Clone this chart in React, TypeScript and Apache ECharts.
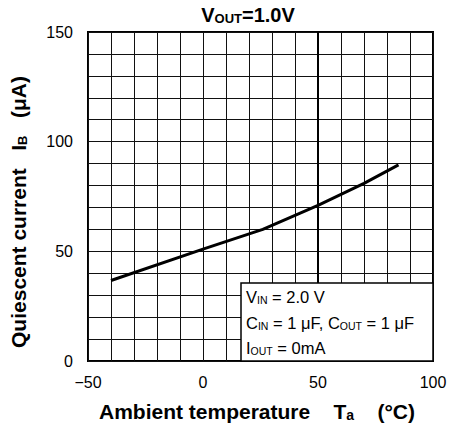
import React, { useEffect, useRef } from "react";
import * as echarts from "echarts";

// ambient temperature (°C) and quiescent current (µA)
const temps = [-40, 0, 26, 50, 70, 85];
const currents = [36.7, 51, 60, 71, 81, 89.4];

const xTicks = [-50, 0, 50, 100];
const yTicks = [0, 50, 100, 150];
const conditions = [
  "{t|V}{s|IN}{t| = 2.0 V}",
  "{t|C}{s|IN}{t| = 1 μF, C}{s|OUT}{t| = 1 μF}",
  "{t|I}{s|OUT}{t| = 0mA}",
];

const FONT = "'Liberation Sans', Arial, Helvetica, sans-serif";

export default function App() {
  const chartRef = useRef<HTMLDivElement>(null);

  useEffect(() => {
    document.body.style.margin = "0";
    if (!chartRef.current) return;
    const chart = echarts.init(chartRef.current, null, { renderer: "svg" });

    const option: echarts.EChartsOption = {
      animation: false,
      backgroundColor: "#fff",
      textStyle: { fontFamily: FONT, color: "#000" },
      grid: {
        left: 88,
        top: 32,
        right: 21,
        bottom: 67,
        show: true,
        borderColor: "#000",
        borderWidth: 2,
        backgroundColor: "transparent",
      },
      xAxis: {
        type: "value",
        min: -50,
        max: 100,
        interval: 10,
        axisLine: { show: false },
        axisTick: { show: false },
        splitLine: { show: true, lineStyle: { color: "#111", width: 1 } },
        axisLabel: {
          fontSize: 16,
          color: "#000",
          fontFamily: FONT,
          margin: 13,
          formatter: (v: number) =>
            xTicks.includes(v) ? String(v).replace("-", "\u2212") : "",
        },
      },
      yAxis: {
        type: "value",
        min: 0,
        max: 150,
        interval: 10,
        axisLine: { show: false },
        axisTick: { show: false },
        splitLine: { show: true, lineStyle: { color: "#111", width: 1 } },
        axisLabel: {
          fontSize: 16,
          color: "#000",
          fontFamily: FONT,
          margin: 15,
          formatter: (v: number) => (yTicks.includes(v) ? String(v) : ""),
        },
      },
      series: [
        {
          type: "line",
          data: temps.map((t, i) => [t, currents[i]]),
          symbol: "none",
          silent: true,
          z: 5,
          lineStyle: { color: "#000", width: 3 },
          markLine: {
            silent: true,
            symbol: "none",
            label: { show: false },
            lineStyle: { color: "#000", width: 2, type: "solid" },
            data: [{ xAxis: 50 }],
          },
        },
      ],
      graphic: [
        {
          type: "text",
          x: 248,
          y: 15,
          style: {
            text: "{b|V}{bs|OUT}{b|=1.0V}",
            align: "center",
            verticalAlign: "middle",
            rich: {
              b: { fontSize: 20, fontWeight: "bold", fontFamily: FONT, verticalAlign: "bottom" },
              bs: { fontSize: 13, fontWeight: "bold", fontFamily: FONT, verticalAlign: "bottom" },
            },
          },
        },
        {
          type: "text",
          x: 18,
          y: 212,
          rotation: Math.PI / 2,
          style: {
            text: "{b|Quiescent current   I}{bs|B}{b|   (μA)}",
            align: "center",
            verticalAlign: "middle",
            rich: {
              b: { fontSize: 21, fontWeight: "bold", fontFamily: FONT, verticalAlign: "bottom" },
              bs: { fontSize: 13, fontWeight: "bold", fontFamily: FONT, verticalAlign: "bottom" },
            },
          },
        },
        {
          type: "text",
          x: 257,
          y: 411,
          style: {
            text: "{b|Ambient temperature    T}{bs|a}{b|    (°C)}",
            align: "center",
            verticalAlign: "middle",
            rich: {
              b: { fontSize: 21, fontWeight: "bold", fontFamily: FONT, verticalAlign: "bottom" },
              bs: { fontSize: 14, fontWeight: "bold", fontFamily: FONT, verticalAlign: "bottom" },
            },
          },
        },
        {
          type: "rect",
          shape: { x: 241, y: 283, width: 192, height: 78 },
          style: { fill: "#fff", stroke: "#000", lineWidth: 1.5 },
          z: 10,
        },
        ...conditions.map((line, i) => ({
          type: "text" as const,
          x: 246,
          y: 297 + i * 25.5,
          z: 11,
          style: {
            text: line,
            verticalAlign: "middle" as const,
            rich: {
              t: { fontSize: 16.5, fontFamily: FONT, verticalAlign: "bottom" as const },
              s: { fontSize: 10.5, fontFamily: FONT, verticalAlign: "bottom" as const },
            },
          },
        })),
      ],
    };

    chart.setOption(option);
    return () => chart.dispose();
  }, []);

  return <div ref={chartRef} style={{ width: 454, height: 428 }} />;
}
